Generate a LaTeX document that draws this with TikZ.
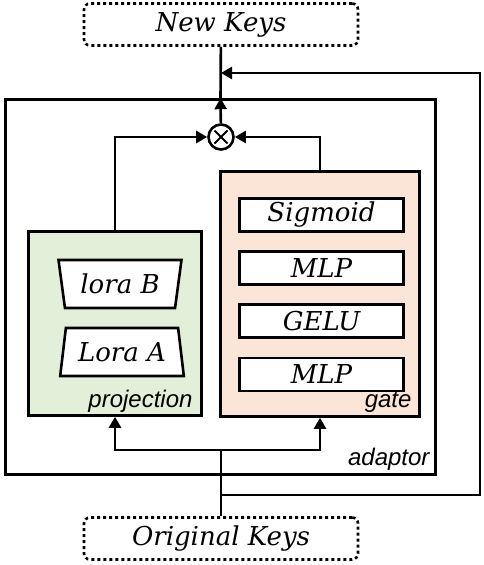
\documentclass[tikz,border=0pt]{standalone}
\usepackage{fontspec}
\newfontfamily\tagfont{Liberation Sans}
\newfontfamily\boxfont{DejaVu Serif}
\usepackage{tikz}
\usetikzlibrary{positioning}
\usetikzlibrary{shapes, backgrounds}
\usetikzlibrary{arrows.meta}
\usetikzlibrary{calc}
\tikzstyle{line} = [draw, -{Triangle[length=11pt,width=12pt]}]
\definecolor{projgreen}{HTML}{E2F0D9}
\definecolor{gatepeach}{HTML}{FBE5D6}

\begin{document}
\begin{tikzpicture}[x=1pt, y=-1pt, line width=2.6pt,
				every node/.style={font=\boxfont\itshape\fontsize{26}{30}\selectfont},
				keybox/.style={draw, rounded corners=6pt, dash pattern=on 3pt off 3pt, minimum width=274pt, minimum height=42pt},
				block/.style={draw, rectangle, fill=white, minimum width=164pt, minimum height=33pt, inner sep=0pt},
				lora/.style={draw, trapezium, trapezium stretches=true, trapezium angle=77, fill=white, minimum width=124pt, minimum height=48pt, inner sep=0pt},
				tag/.style={anchor=base east, inner sep=0pt, font=\tagfont\itshape\fontsize{24}{28}\selectfont}]

				\useasboundingbox (0,0) rectangle (484,565);

				\node (newkeys) at (221,24.5) [keybox] {New Keys};
				\node (origkeys) at (221,538.5) [keybox] {Original Keys};

				\node (adaptor) at (220.5,287) [draw, minimum width=430pt, minimum height=375pt] {};
				\node (proj) at (115,323.5) [draw, fill=projgreen, minimum width=173pt, minimum height=184pt] {};
				\node (gate) at (320,294) [draw, fill=gatepeach, minimum width=199pt, minimum height=245pt] {};

				\node (lorab) at (120,284) [lora, shape border rotate=180] {lora B};
				\node (loraa) at (122,352) [lora] {Lora A};

				\node (sigmoid) at (321.5,215) [block] {Sigmoid};
				\node[below=17.5pt of sigmoid] (mlpb) [block] {MLP};
				\node[below=17.5pt of mlpb] (gelu) [block] {GELU};
				\node[below=17.5pt of gelu] (mlpa) [block] {MLP};

				\node[tag] at ($(proj.south east)+(-9,-9)$) {projection};
				\node[tag] at ($(gate.south east)+(-8,-10)$) {gate};
				\node[tag] at ($(adaptor.south east)+(-6,-10)$) {adaptor};

				\node (mul) at (221,137) [draw, circle, minimum size=25pt, inner sep=0pt] {};
				\draw [line width=2pt] ($(mul)+(-6.5,-6.5)$) -- ($(mul)+(6.5,6.5)$);
				\draw [line width=2pt] ($(mul)+(6.5,-6.5)$) -- ($(mul)+(-6.5,6.5)$);

				\coordinate (fork) at (221,450);
				\coordinate (split) at (221,495);
				\coordinate (loop) at (480,73);
				\coordinate (merge) at (221,73);

				\draw [line] (proj) |- (mul);
				\draw [line] (gate) |- (mul);
				\draw [line] (mul) -- (adaptor.north);
				\draw (adaptor.north) -- (newkeys);
				\draw (origkeys) -- (fork);
				\draw [line] (fork) -| (proj);
				\draw [line] (fork) -| (gate);
				\draw [line] (split) -| (loop) -- (merge);

			\end{tikzpicture}
\end{document}
